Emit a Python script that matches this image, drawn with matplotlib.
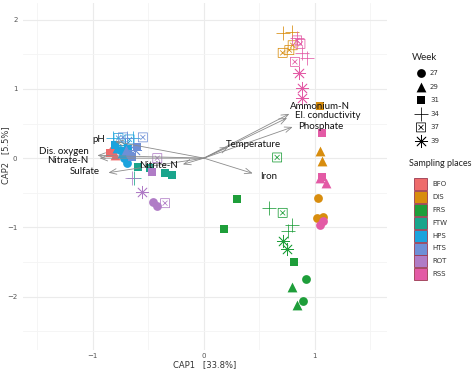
import matplotlib
matplotlib.use("Agg")
import matplotlib.pyplot as plt
from matplotlib.path import Path

# ---------------- data ----------------
places = ["BFO", "DIS", "FRS", "FTW", "HPS", "HTS", "ROT", "RSS"]
place_colors = ["#EE6B6B", "#D88D0E", "#1E9E3A", "#1AA58C", "#1BA3DD", "#6E8FD6", "#B07CC6", "#E35AA5"]
weeks = [27, 29, 31, 34, 37, 39]

# samples: place, week, CAP1, CAP2
samp_place = (["BFO"] * 3 +
              ["HPS"] * 12 +
              ["HTS"] * 8 +
              ["FTW"] * 5 +
              ["ROT"] * 7 +
              ["DIS"] * 11 +
              ["RSS"] * 15 +
              ["FRS"] * 14)
samp_week = ([27, 29, 31] +
             [27, 27, 27, 29, 29, 31, 31, 34, 34, 37, 37, 39] +
             [27, 29, 31, 31, 34, 37, 37, 39] +
             [31, 31, 31, 31, 34] +
             [31, 37, 37, 34, 39, 27, 27] +
             [27, 27, 27, 29, 29, 31, 34, 34, 37, 37, 37] +
             [27, 27, 29, 29, 31, 31, 34, 34, 34, 37, 37, 37, 39, 39, 39] +
             [27, 27, 29, 29, 31, 31, 31, 34, 34, 34, 37, 37, 39, 39])
samp_cap1 = ([-0.82, -0.80, -0.85] +
             [-0.76, -0.72, -0.69, -0.78, -0.74, -0.80, -0.68, -0.82, -0.64, -0.77, -0.67, -0.71] +
             [-0.67, -0.70, -0.60, -0.65, -0.69, -0.73, -0.55, -0.62] +
             [-0.59, -0.49, -0.35, -0.29, -0.63] +
             [-0.47, -0.42, -0.35, -0.65, -0.56, -0.46, -0.42] +
             [1.03, 1.02, 1.07, 1.05, 1.06, 1.05, 0.71, 0.79, 0.71, 0.77, 0.80] +
             [1.05, 1.07, 1.05, 1.10, 1.06, 1.06, 0.88, 0.93, 0.84, 0.84, 0.87, 0.82, 0.86, 0.88, 0.88] +
             [0.92, 0.89, 0.79, 0.84, 0.30, 0.18, 0.81, 0.59, 0.79, 0.76, 0.71, 0.66, 0.71, 0.75])
samp_cap2 = ([0.12, 0.04, 0.07] +
             [0.12, 0.00, -0.07, 0.14, 0.07, 0.19, 0.12, 0.29, 0.29, 0.29, 0.27, 0.19] +
             [0.04, 0.12, 0.16, 0.01, 0.29, 0.30, 0.30, 0.12] +
             [-0.13, -0.14, -0.22, -0.25, -0.29] +
             [-0.20, 0.00, -0.65, -0.29, -0.49, -0.63, -0.69] +
             [-0.58, -0.87, -0.85, 0.10, -0.04, 0.76, 1.80, 1.82, 1.52, 1.56, 1.63] +
             [-0.97, -0.91, -0.29, -0.36, 0.36, -0.27, 1.52, 1.44, 1.73, 1.70, 1.65, 1.39, 1.23, 1.01, 0.87] +
             [-1.75, -2.06, -1.86, -2.12, -0.59, -1.02, -1.50, -0.72, -0.97, -1.05, -0.79, 0.01, -1.20, -1.31])

# environmental vectors
env_names = ["pH", "Dis. oxygen", "Nitrate-N", "Sulfate", "Nitrite-N",
             "Temperature", "Iron", "Ammonium-N", "El. conductivity", "Phosphate"]
env_cap1 = [-0.80, -0.96, -0.94, -0.86, -0.19, 0.22, 0.44, 0.77, 0.75, 0.80]
env_cap2 = [0.24, 0.04, 0.00, -0.21, -0.09, 0.16, -0.22, 0.64, 0.58, 0.45]

# ---------------- styles ----------------
boxx = Path([(-1, -1), (1, -1), (1, 1), (-1, 1), (-1, -1),
             (-0.55, -0.55), (0.55, 0.55), (-0.55, 0.55), (0.55, -0.55)],
            [Path.MOVETO, Path.LINETO, Path.LINETO, Path.LINETO, Path.CLOSEPOLY,
             Path.MOVETO, Path.LINETO, Path.MOVETO, Path.LINETO])
# marker, size, kind (fill / line / box)
week_marker = {27: ("o", 40, "fill"), 29: ("^", 50, "fill"), 31: ("s", 38, "fill"),
               34: ("+", 105, "line"), 37: (boxx, 42, "box"), 39: ((8, 2, 0), 80, "line")}
label_pos = {"pH": (-0.95, 0.27, "center"), "Dis. oxygen": (-1.04, 0.09, "right"),
             "Nitrate-N": (-1.04, -0.03, "right"), "Sulfate": (-0.94, -0.20, "right"),
             "Nitrite-N": (-0.41, -0.10, "center"), "Temperature": (0.45, 0.19, "center"),
             "Iron": (0.58, -0.27, "center"), "Ammonium-N": (1.05, 0.74, "center"),
             "El. conductivity": (1.12, 0.61, "center"), "Phosphate": (1.05, 0.45, "center")}


def draw_marker(a, x, y, w, c):
    m, s, kind = week_marker[w]
    if kind == "fill":
        a.scatter([x], [y], marker=m, s=s, c=c, linewidths=0, zorder=3)
    elif kind == "line":
        a.scatter([x], [y], marker=m, s=s, c=c, linewidths=0.55, zorder=3)
    else:
        a.scatter([x], [y], marker=m, s=s, facecolors="none", edgecolors=c,
                  linewidths=0.55, zorder=3)


W, H = 474, 371
fig = plt.figure(figsize=(W / 100, H / 100), dpi=100)
fig.patch.set_facecolor("white")
ax = fig.add_axes([23 / W, 21 / H, (387 - 23) / W, (368 - 21) / H])
ax.set_xlim(-1.63, 1.65)
ax.set_ylim(-2.77, 2.24)
for s in ax.spines.values():
    s.set_visible(False)
ax.set_xticks([-1, 0, 1])
ax.set_yticks([-2, -1, 0, 1, 2])
ax.set_xticks([-1.5, -0.5, 0.5, 1.5], minor=True)
ax.set_yticks([-2.5, -1.5, -0.5, 0.5, 1.5], minor=True)
ax.grid(True, which="major", color="#EBEBEB", lw=0.8)
ax.grid(True, which="minor", color="#F4F4F4", lw=0.6)
ax.set_axisbelow(True)
ax.tick_params(which="both", length=0, labelsize=5, colors="#555555")
ax.tick_params(axis="x", pad=2)
ax.tick_params(axis="y", pad=4)
ax.set_xlabel("CAP1   [33.8%]", fontsize=6, color="#333333", labelpad=1)
ax.set_ylabel("CAP2   [5.5%]", fontsize=6, color="#333333")
ax.yaxis.set_label_coords(-0.036, 0.56)

cmap = dict(zip(places, place_colors))
for p, w, x, y in zip(samp_place, samp_week, samp_cap1, samp_cap2):
    draw_marker(ax, x, y, w, cmap[p])

for n, x, y in zip(env_names, env_cap1, env_cap2):
    ax.annotate("", xy=(x, y), xytext=(0, 0),
                arrowprops=dict(arrowstyle="->,head_length=0.5,head_width=0.2",
                                color="#8C8C8C", lw=0.6, shrinkA=0, shrinkB=0), zorder=4)
    tx, ty, ha = label_pos[n]
    ax.text(tx, ty, n, ha=ha, va="center", fontsize=7, family="Lato", color="#111111", zorder=5)

# ---------------- legends ----------------
lg = fig.add_axes([0, 0, 1, 1])
lg.set_xlim(0, W)
lg.set_ylim(H, 0)
lg.axis("off")
lg.patch.set_alpha(0)
lg.text(412, 57, "Week", fontsize=7, family="Lato", va="center", ha="left", color="#222222")
for i, w in enumerate(weeks):
    yy = 73 + i * 13.6
    draw_marker(lg, 421, yy, w, "black")
    lg.text(430, yy, str(w), fontsize=5, va="center", ha="left", color="#333333")
lg.text(409, 163, "Sampling places", fontsize=6.5, family="Lato", va="center", ha="left", color="#222222")
for i, (p, c) in enumerate(zip(places, place_colors)):
    yy = 184 + i * 12.9
    lg.add_patch(plt.Rectangle((414, yy - 6), 13, 12, facecolor=c, edgecolor="#9A3A50", lw=0.6))
    lg.text(432, yy, p, fontsize=5, va="center", ha="left", color="#333333")

fig.savefig("out.png", dpi=100)
